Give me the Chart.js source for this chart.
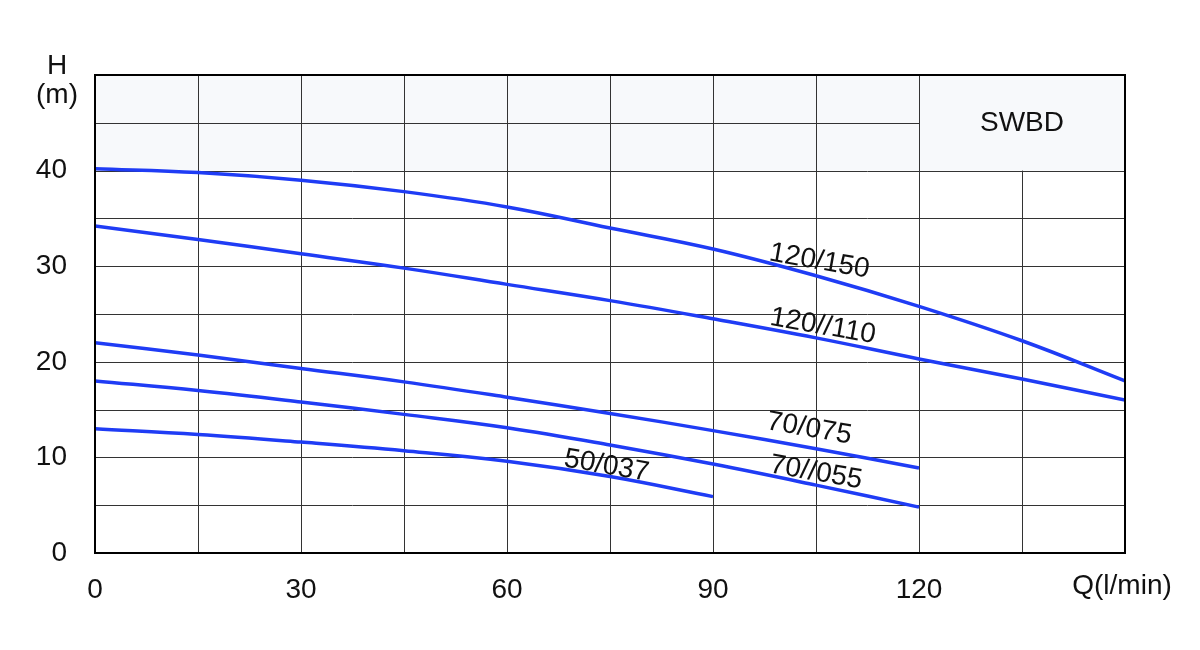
<!DOCTYPE html>
<html>
<head>
<meta charset="utf-8">
<script src="https://cdn.jsdelivr.net/npm/chart.js@4/dist/chart.umd.min.js"></script>
<style>
  html, body { margin: 0; padding: 0; background: #fff; }
  #wrap { width: 1200px; height: 650px; }
</style>
</head>
<body>
<div id="wrap"><canvas id="pumpChart"></canvas></div>
<script>
// flow Q (l/min) sample points
const flow = [0, 15, 30, 45, 60, 75, 90, 105, 120, 135, 150];
const head120150 = [40.2, 39.8, 39.0, 37.8, 36.2, 34.0, 31.8, 29.0, 25.8, 22.2, 18.0];
const head120110 = [34.2, 32.8, 31.3, 29.8, 28.1, 26.4, 24.5, 22.5, 20.3, 18.2, 16.0];
const head70075 = [22.0, 20.7, 19.3, 17.9, 16.3, 14.6, 12.8, 10.9, 8.9];
const head70055 = [18.0, 17.0, 15.8, 14.5, 13.1, 11.3, 9.3, 7.1, 4.8];
const head50037 = [13.0, 12.4, 11.6, 10.7, 9.6, 8.0, 5.9];

const curveLabels = [
    { text: "120/150", q: 105.5, h: 30.5 },
    { text: "120//110", q: 106, h: 23.7 },
    { text: "70/075", q: 104, h: 13.0 },
    { text: "70//055", q: 105, h: 8.4 },
    { text: "50/037", q: 74.5, h: 9.1 },
];
const xTickLabels = [0, 30, 60, 90, 120];
const yTickLabels = [0, 10, 20, 30, 40];

const lineColor = "#1f3cf5";
const fontFamily = "'Liberation Sans', Arial, sans-serif";
const toPoints = (heads) => heads.map((h, i) => ({ x: flow[i], y: h }));

const decorations = {
    id: "decorations",
    beforeDatasetsDraw(chart) {
        const { ctx, scales: { x, y } } = chart;
        ctx.save();
        // light band above 40 m
        ctx.fillStyle = "#f7f9fb";
        ctx.fillRect(x.left, y.top, x.right - x.left, y.getPixelForValue(40) - y.top);
        ctx.strokeStyle = "#333";
        ctx.lineWidth = 1;
        ctx.beginPath();
        for (let v = 15; v < 150; v += 15) {
            const px = Math.round(x.getPixelForValue(v)) + 0.5;
            const topV = v > 120 ? 40 : 50;
            ctx.moveTo(px, y.getPixelForValue(topV));
            ctx.lineTo(px, y.bottom);
        }
        for (let v = 5; v < 50; v += 5) {
            const py = Math.round(y.getPixelForValue(v)) + 0.5;
            const rightV = v > 40 ? 120 : 150;
            ctx.moveTo(x.left, py);
            ctx.lineTo(x.getPixelForValue(rightV), py);
        }
        ctx.stroke();
        ctx.restore();
    },
    afterDraw(chart) {
        const { ctx, scales: { x, y } } = chart;
        ctx.save();
        ctx.strokeStyle = "#000";
        ctx.lineWidth = 2;
        ctx.strokeRect(x.left, y.top, x.right - x.left, y.bottom - y.top);
        ctx.fillStyle = "#111";
        ctx.font = "28px " + fontFamily;
        ctx.textAlign = "center";
        ctx.textBaseline = "middle";
        ctx.fillText("SWBD", x.getPixelForValue(135), y.getPixelForValue(45));
        ctx.fillText("H", 57, 66);
        ctx.fillText("(m)", 57, 95);
        ctx.fillText("Q(l/min)", 1122, 586);
        curveLabels.forEach((l) => {
            ctx.save();
            ctx.translate(x.getPixelForValue(l.q), y.getPixelForValue(l.h));
            ctx.rotate(10 * Math.PI / 180);
            ctx.fillText(l.text, 0, 0);
            ctx.restore();
        });
        ctx.restore();
    },
};

const mkSet = (heads) => ({
    data: toPoints(heads),
    borderColor: lineColor,
    borderWidth: 3.5,
    pointRadius: 0,
    tension: 0.4,
    fill: false,
});

new Chart(document.getElementById("pumpChart"), {
    type: "line",
    data: {
        datasets: [head120150, head120110, head70075, head70055, head50037].map(mkSet),
    },
    options: {
        responsive: true,
        maintainAspectRatio: false,
        animation: false,
        layout: { padding: { top: 75, right: 75, left: 0, bottom: 0 } },
        plugins: { legend: { display: false }, tooltip: { enabled: false } },
        scales: {
            x: {
                type: "linear",
                min: 0,
                max: 150,
                grid: { display: false },
                border: { display: false },
                ticks: {
                    stepSize: 30,
                    padding: 12,
                    color: "#111",
                    font: { size: 28, family: fontFamily },
                    callback: (v) => (xTickLabels.includes(v) ? v : ""),
                },
                afterFit: (s) => { s.height = 97; },
            },
            y: {
                min: 0,
                max: 50,
                grid: { display: false },
                border: { display: false },
                ticks: {
                    stepSize: 10,
                    padding: 20,
                    color: "#111",
                    font: { size: 28, family: fontFamily },
                    callback: (v) => (yTickLabels.includes(v) ? v : ""),
                },
                afterFit: (s) => { s.width = 95; },
            },
        },
    },
    plugins: [decorations],
});
</script>
</body>
</html>
